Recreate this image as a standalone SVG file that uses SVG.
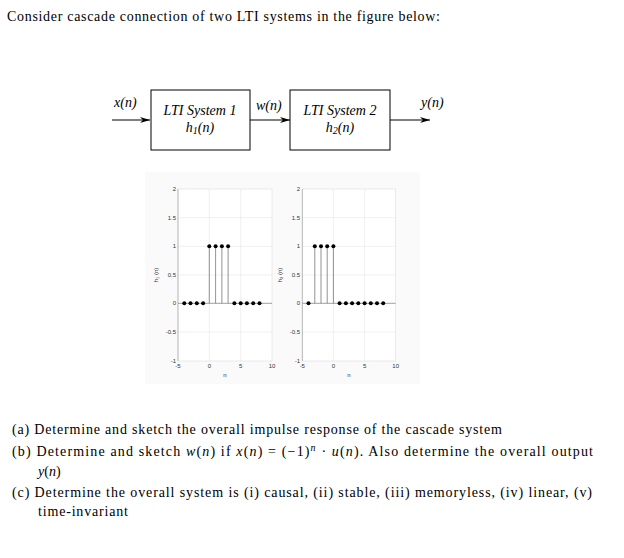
<svg xmlns="http://www.w3.org/2000/svg" width="624" height="558" viewBox="0 0 624 558">
<style>
.t{font-family:"Liberation Serif",serif;font-size:14px;fill:#000}
.i{font-family:"Liberation Serif",serif;font-size:14px;font-style:italic}
.ax{font-family:"Liberation Sans",sans-serif;font-size:6px;fill:#333}
.g{stroke:#e6e6e6;stroke-width:0.6}
.st{stroke:#777;stroke-width:0.8}
.bx{fill:#fff;stroke:#000;stroke-width:1}
</style>
<defs><marker id="a" markerWidth="10" markerHeight="6" refX="10" refY="3" orient="auto"><path d="M0,0L10,3L0,6L3,3z" fill="#000"/></marker></defs>
<rect width="624" height="558" fill="#fff"/>
<rect x="145" y="172" width="275" height="212" fill="#fafafa"/>
<text class="t" x="7" y="21" textLength="433" lengthAdjust="spacing">Consider cascade connection of two LTI systems in the figure below:</text>
<g id="conn" stroke="#000" stroke-width="1">
<line x1="112" y1="120" x2="150" y2="120" marker-end="url(#a)"/>
<line x1="250" y1="120" x2="290" y2="120" marker-end="url(#a)"/>
<line x1="390" y1="120" x2="430" y2="120" marker-end="url(#a)"/>
</g>
<text class="i" x="114" y="107">x(n)</text>
<text class="i" x="256" y="110">w(n)</text>
<text class="i" x="421" y="107">y(n)</text>
<g id="sys1"><rect class="bx" x="151" y="90" width="99" height="60"/>
<text class="i" x="200" y="115" text-anchor="middle">LTI System 1</text>
<text class="i" x="200" y="132" text-anchor="middle">h<tspan font-size="10" dy="2">1</tspan><tspan dy="-2">(n)</tspan></text></g>
<g id="sys2"><rect class="bx" x="290" y="90" width="100" height="60"/>
<text class="i" x="340" y="115" text-anchor="middle">LTI System 2</text>
<text class="i" x="340" y="132" text-anchor="middle">h<tspan font-size="10" dy="2">2</tspan><tspan dy="-2">(n)</tspan></text></g>
<g id="plot1">
<rect x="178" y="189" width="94" height="172" fill="#fff"/>
<g class="g"><line x1="178" y1="217.7" x2="272" y2="217.7"/><line x1="178" y1="246.3" x2="272" y2="246.3"/><line x1="178" y1="275" x2="272" y2="275"/><line x1="178" y1="332" x2="272" y2="332"/><line x1="209.3" y1="189" x2="209.3" y2="361"/><line x1="240.7" y1="189" x2="240.7" y2="361"/></g>
<rect x="178" y="189" width="94" height="172" fill="none" stroke="#ddd" stroke-width="0.6"/>
<line x1="178" y1="189" x2="178" y2="361" stroke="#999" stroke-width="0.6"/>
<line x1="178" y1="303.3" x2="272" y2="303.3" stroke="#888" stroke-width="0.8"/>
<g class="st"><line x1="209.3" y1="303.3" x2="209.3" y2="246.3"/><line x1="215.6" y1="303.3" x2="215.6" y2="246.3"/><line x1="221.9" y1="303.3" x2="221.9" y2="246.3"/><line x1="228.1" y1="303.3" x2="228.1" y2="246.3"/></g>
<g fill="#000"><circle cx="184.3" cy="303.3" r="2"/><circle cx="190.5" cy="303.3" r="2"/><circle cx="196.8" cy="303.3" r="2"/><circle cx="203.1" cy="303.3" r="2"/><circle cx="209.3" cy="246.3" r="2"/><circle cx="215.6" cy="246.3" r="2"/><circle cx="221.9" cy="246.3" r="2"/><circle cx="228.1" cy="246.3" r="2"/><circle cx="234.4" cy="303.3" r="2"/><circle cx="240.7" cy="303.3" r="2"/><circle cx="246.9" cy="303.3" r="2"/><circle cx="253.2" cy="303.3" r="2"/><circle cx="259.5" cy="303.3" r="2"/></g>
<g class="ax" text-anchor="end"><text x="176" y="191">2</text><text x="176" y="220">1.5</text><text x="176" y="248">1</text><text x="176" y="277">0.5</text><text x="176" y="305">0</text><text x="176" y="334">-0.5</text><text x="176" y="363">-1</text></g>
<g class="ax" text-anchor="middle"><text x="178" y="368">-5</text><text x="209.3" y="368">0</text><text x="240.7" y="368">5</text><text x="272" y="368">10</text><text x="225" y="377">n</text></g>
<text class="ax" transform="translate(158,275) rotate(-90)" text-anchor="middle">h<tspan font-size="4" dy="1">1</tspan><tspan dy="-1"> (n)</tspan></text>
</g>
<g id="plot2">
<rect x="302.3" y="189" width="93.4" height="172" fill="#fff"/>
<g class="g"><line x1="302.3" y1="217.7" x2="395.7" y2="217.7"/><line x1="302.3" y1="246.3" x2="395.7" y2="246.3"/><line x1="302.3" y1="275" x2="395.7" y2="275"/><line x1="302.3" y1="332" x2="395.7" y2="332"/><line x1="333.4" y1="189" x2="333.4" y2="361"/><line x1="364.6" y1="189" x2="364.6" y2="361"/></g>
<rect x="302.3" y="189" width="93.4" height="172" fill="none" stroke="#ddd" stroke-width="0.6"/>
<line x1="302.3" y1="189" x2="302.3" y2="361" stroke="#999" stroke-width="0.6"/>
<line x1="302.3" y1="303.3" x2="395.7" y2="303.3" stroke="#888" stroke-width="0.8"/>
<g class="st"><line x1="314.8" y1="303.3" x2="314.8" y2="246.3"/><line x1="321" y1="303.3" x2="321" y2="246.3"/><line x1="327.2" y1="303.3" x2="327.2" y2="246.3"/><line x1="333.4" y1="303.3" x2="333.4" y2="246.3"/></g>
<g fill="#000"><circle cx="308.5" cy="303.3" r="2"/><circle cx="314.8" cy="246.3" r="2"/><circle cx="321" cy="246.3" r="2"/><circle cx="327.2" cy="246.3" r="2"/><circle cx="333.4" cy="246.3" r="2"/><circle cx="339.6" cy="303.3" r="2"/><circle cx="345.9" cy="303.3" r="2"/><circle cx="352.1" cy="303.3" r="2"/><circle cx="358.3" cy="303.3" r="2"/><circle cx="364.6" cy="303.3" r="2"/><circle cx="370.8" cy="303.3" r="2"/><circle cx="377" cy="303.3" r="2"/><circle cx="383.2" cy="303.3" r="2"/></g>
<g class="ax" text-anchor="end"><text x="300" y="191">2</text><text x="300" y="220">1.5</text><text x="300" y="248">1</text><text x="300" y="277">0.5</text><text x="300" y="305">0</text><text x="300" y="334">-0.5</text><text x="300" y="363">-1</text></g>
<g class="ax" text-anchor="middle"><text x="302.3" y="368">-5</text><text x="333.4" y="368">0</text><text x="364.6" y="368">5</text><text x="395.7" y="368">10</text><text x="349" y="377">n</text></g>
<text class="ax" transform="translate(282,275) rotate(-90)" text-anchor="middle">h<tspan font-size="4" dy="1">2</tspan><tspan dy="-1"> (n)</tspan></text>
</g>
<text class="t" x="12" y="434" textLength="490" lengthAdjust="spacing">(a) Determine and sketch the overall impulse response of the cascade system</text>
<text class="t" x="12" y="456" textLength="581" lengthAdjust="spacing">(b) Determine and sketch <tspan font-style="italic">w</tspan>(<tspan font-style="italic">n</tspan>) if <tspan font-style="italic">x</tspan>(<tspan font-style="italic">n</tspan>) = (−1)<tspan font-size="10" dy="-5" font-style="italic">n</tspan><tspan dy="5"> · </tspan><tspan font-style="italic">u</tspan>(<tspan font-style="italic">n</tspan>). Also determine the overall output</text>
<text class="t" x="38" y="476"><tspan font-style="italic">y</tspan>(<tspan font-style="italic">n</tspan>)</text>
<text class="t" x="12" y="497" textLength="580" lengthAdjust="spacing">(c) Determine the overall system is (i) causal, (ii) stable, (iii) memoryless, (iv) linear, (v)</text>
<text class="t" x="38" y="516" textLength="90" lengthAdjust="spacing">time-invariant</text>
</svg>
